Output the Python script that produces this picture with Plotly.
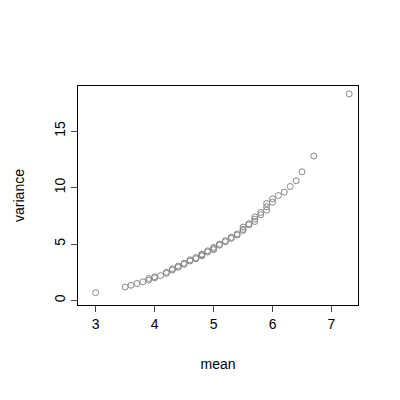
import plotly.graph_objects as go

means = [3.0, 3.5, 3.6, 3.7, 3.8, 3.9, 3.9, 4.0, 4.0, 4.1, 4.2, 4.2, 4.3, 4.3, 4.4, 4.4, 4.5, 4.5,
         4.6, 4.6, 4.7, 4.7, 4.8, 4.8, 4.8, 4.9, 4.9, 5.0, 5.0, 5.0, 5.1, 5.1, 5.2, 5.2, 5.3, 5.3,
         5.4, 5.4, 5.5, 5.5, 5.5, 5.6, 5.6, 5.7, 5.7, 5.7, 5.8, 5.8, 5.9, 5.9, 5.9, 6.0, 6.0,
         6.1, 6.2, 6.3, 6.4, 6.5, 6.7, 7.3]
variances = [0.7, 1.2, 1.35, 1.5, 1.65, 1.8, 1.95, 2.0, 2.1, 2.2, 2.4, 2.5, 2.7, 2.8, 2.95, 3.05, 3.2, 3.3,
             3.5, 3.6, 3.7, 3.8, 3.95, 4.05, 4.1, 4.3, 4.4, 4.5, 4.6, 4.7, 4.9, 5.0, 5.2, 5.3, 5.5, 5.6,
             5.8, 5.9, 6.2, 6.3, 6.5, 6.7, 6.8, 7.0, 7.2, 7.4, 7.6, 7.8, 8.0, 8.3, 8.6, 8.7, 9.0,
             9.3, 9.6, 10.1, 10.6, 11.4, 12.8, 18.3]

fig = go.Figure(go.Scatter(x=means, y=variances, mode="markers",
                           marker=dict(symbol="circle-open", size=6, color="#888888", line=dict(width=1))))
ax = dict(showgrid=False, zeroline=False, showline=True, mirror=True, linecolor="black",
          ticks="outside", ticklen=6, tickfont=dict(size=14, color="black"))
fig.update_xaxes(ax, range=[2.7, 7.45], tickvals=[3, 4, 5, 6, 7],
                 title=dict(text="mean", font=dict(size=14, color="black"), standoff=28))
fig.update_yaxes(ax, range=[-0.4, 19.0], tickvals=[0, 5, 10, 15], tickangle=-90,
                 title=dict(text="variance", font=dict(size=14, color="black"), standoff=24))
fig.update_layout(width=400, height=400, plot_bgcolor="white", paper_bgcolor="white",
                  font=dict(family="Liberation Sans"), showlegend=False,
                  margin=dict(l=70, r=50, t=78, b=103))
fig.write_html("out.html")
